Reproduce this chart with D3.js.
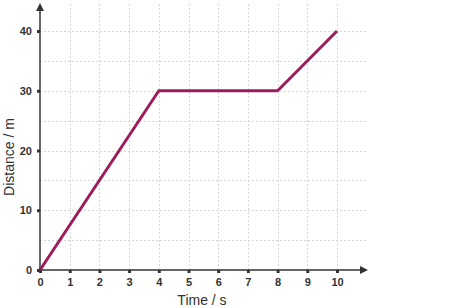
<!DOCTYPE html>
<html>
<head>
<meta charset="utf-8">
<script src="https://cdn.jsdelivr.net/npm/d3@7"></script>
<style>
  body { margin: 0; background: #fff; }
  svg { display: block; font-family: "Liberation Sans", Arial, sans-serif; }
</style>
</head>
<body>
<div id="viz"></div>
<script>
const times = [0, 4, 8, 10];
const distances = [0, 30, 30, 40];
const xTicks = [0, 1, 2, 3, 4, 5, 6, 7, 8, 9, 10];
const yTicks = [0, 10, 20, 30, 40];
const xGrid = [1, 2, 3, 4, 5, 6, 7, 8, 9, 10];
const yGrid = [5, 10, 15, 20, 25, 30, 35, 40];

const WIDTH = 464;
const HEIGHT = 308;

const svg = d3.select('#viz').append('svg')
  .attr('width', WIDTH)
  .attr('height', HEIGHT);

const x = d3.scaleLinear().domain([0, 10]).range([40, 337]);
const y = d3.scaleLinear().domain([0, 40]).range([270, 31]);

// grid
const grid = svg.append('g').attr('class', 'grid')
  .attr('stroke', '#d4d6de')
  .attr('stroke-dasharray', '2,2')
  .attr('stroke-width', 1);
grid.selectAll('line.v')
  .data(xGrid)
  .join('line')
  .attr('class', 'v')
  .attr('x1', d => Math.round(x(d)) + 0.5)
  .attr('x2', d => Math.round(x(d)) + 0.5)
  .attr('y1', 4)
  .attr('y2', y(0));
grid.selectAll('line.h')
  .data(yGrid)
  .join('line')
  .attr('class', 'h')
  .attr('x1', x(0))
  .attr('x2', x(11))
  .attr('y1', d => Math.round(y(d)) + 0.5)
  .attr('y2', d => Math.round(y(d)) + 0.5);

// axes
const axisColor = '#333';
const xAxis = d3.axisBottom(x).tickValues(xTicks).tickSize(3).tickPadding(5);
const yAxis = d3.axisLeft(y).tickValues(yTicks).tickSize(3).tickPadding(5);

const gx = svg.append('g')
  .attr('transform', `translate(0, ${y(0)})`)
  .call(xAxis);
const gy = svg.append('g')
  .attr('transform', `translate(${x(0)}, 0)`)
  .call(yAxis);

[gx, gy].forEach(g => {
  g.select('.domain').remove();
  g.selectAll('.tick line').attr('stroke', axisColor).attr('stroke-width', 3);
  g.selectAll('.tick text')
    .attr('fill', axisColor)
    .attr('font-size', 11)
    .attr('font-weight', 'bold');
});

// axis lines with arrows
svg.append('line')
  .attr('x1', x(0)).attr('x2', 364)
  .attr('y1', y(0)).attr('y2', y(0))
  .attr('stroke', axisColor).attr('stroke-width', 1.5);
svg.append('path')
  .attr('d', `M368,${y(0)} L360,${y(0) - 4} L360,${y(0) + 4} Z`)
  .attr('fill', axisColor);
svg.append('line')
  .attr('x1', x(0)).attr('x2', x(0))
  .attr('y1', y(0)).attr('y2', 8)
  .attr('stroke', axisColor).attr('stroke-width', 1.5);
svg.append('path')
  .attr('d', `M${x(0)},3 L${x(0) - 4},11 L${x(0) + 4},11 Z`)
  .attr('fill', axisColor);

// data line
const line = d3.line()
  .x((d, i) => x(times[i]))
  .y(d => y(d));
svg.append('path')
  .datum(distances)
  .attr('d', line)
  .attr('fill', 'none')
  .attr('stroke', '#9c1c5c')
  .attr('stroke-width', 3)
  .attr('stroke-linejoin', 'round');

// axis labels
svg.append('text')
  .attr('x', 202)
  .attr('y', 305)
  .attr('text-anchor', 'middle')
  .attr('font-size', 14)
  .attr('fill', '#333')
  .text('Time / s');
svg.append('text')
  .attr('transform', 'translate(14, 157) rotate(-90)')
  .attr('text-anchor', 'middle')
  .attr('font-size', 14)
  .attr('fill', '#333')
  .text('Distance / m');
</script>
</body>
</html>
